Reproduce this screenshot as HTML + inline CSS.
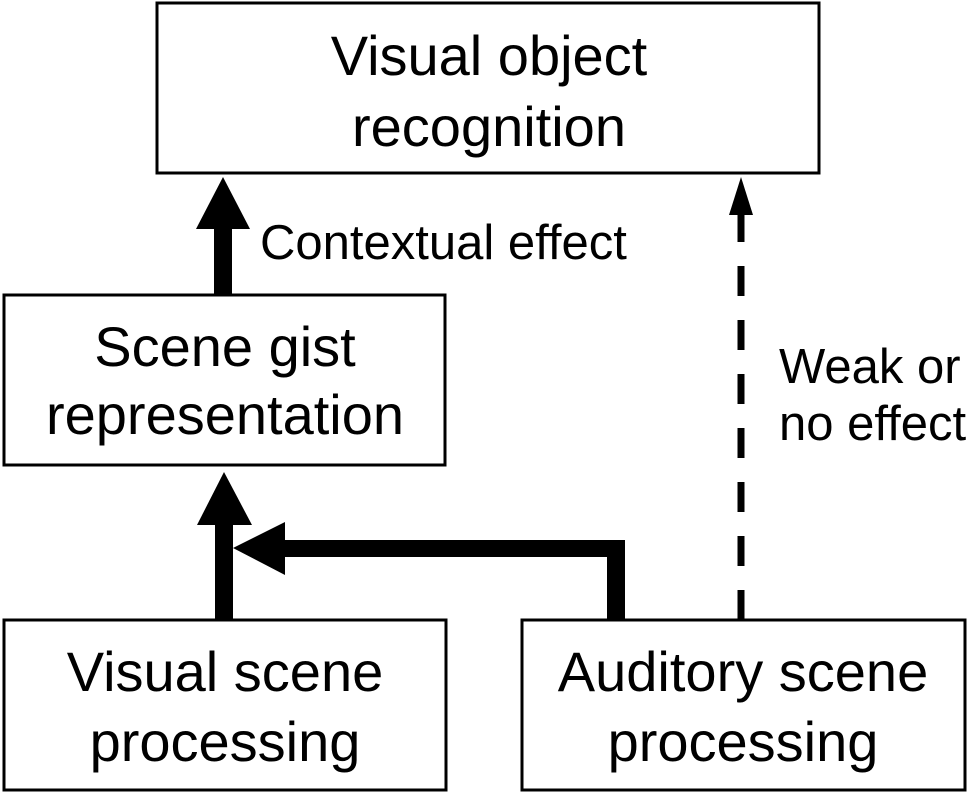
<!DOCTYPE html>
<html><head><style>
html,body{margin:0;padding:0;background:#fff;}
svg{display:block;}
text{font-family:"Liberation Sans",Arial,sans-serif;fill:#000;}
</style></head><body>
<svg width="968" height="797" viewBox="0 0 968 797" xmlns="http://www.w3.org/2000/svg">
<g fill="none" stroke="#000" stroke-width="3">
<rect x="157" y="3" width="662" height="170"/>
<rect x="4" y="295" width="441" height="170"/>
<rect x="4" y="620" width="442" height="170"/>
<rect x="522" y="620" width="443" height="170"/>
</g>
<rect x="214" y="226" width="18" height="70" fill="#000"/>
<polygon points="223,177 196,229 250,229" fill="#000"/>
<rect x="215" y="522" width="18" height="99" fill="#000"/>
<polygon points="224,472 197,525 252,525" fill="#000"/>
<rect x="607" y="540" width="18" height="81" fill="#000"/>
<rect x="282" y="540" width="343" height="17" fill="#000"/>
<polygon points="233,548 285,522 285,575" fill="#000"/>
<line x1="741" y1="620" x2="741" y2="212" stroke="#000" stroke-width="7" stroke-dasharray="30,24"/>
<polygon points="741,177 729,215 753,215" fill="#000"/>
<g font-size="56" text-anchor="middle">
<text x="489" y="75">Visual object</text>
<text x="489" y="146">recognition</text>
<text x="225" y="366">Scene gist</text>
<text x="225" y="434">representation</text>
<text x="225" y="691">Visual scene</text>
<text x="225" y="761">processing</text>
<text x="743" y="691">Auditory scene</text>
<text x="743" y="761">processing</text>
</g>
<g font-size="49">
<text x="260" y="259">Contextual effect</text>
<text x="779" y="383">Weak or</text>
<text x="779" y="440">no effect</text>
</g>
</svg>
</body></html>
